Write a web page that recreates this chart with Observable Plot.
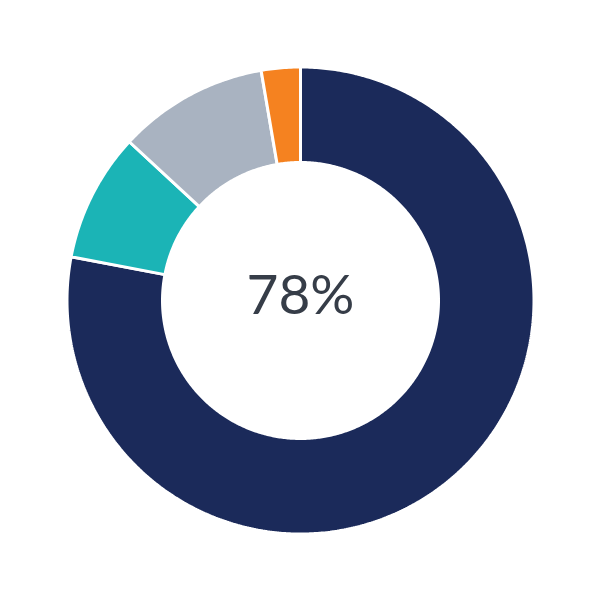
<!DOCTYPE html>
<html>
<head>
<meta charset="utf-8">
<script src="https://cdn.jsdelivr.net/npm/d3@7"></script>
<script src="https://cdn.jsdelivr.net/npm/@observablehq/plot@0.6"></script>
<style>
  html, body { margin: 0; padding: 0; background: #fff; }
  #chart { width: 600px; height: 600px; }
</style>
</head>
<body>
<div id="chart"></div>
<script>
const categories = ["A", "B", "C", "D"];
const values = [78, 8.9, 10.4, 2.7];
const colors = ["#1b2a5a", "#1bb4b6", "#a9b3c1", "#f58220"];
const centerLabel = "78%";

const outerR = 233.5;
const innerR = 138;

const total = d3.sum(values);
const rows = [];
let acc = 0;
categories.forEach((c, i) => {
  const a0 = (acc / total) * 2 * Math.PI;
  acc += values[i];
  const a1 = (acc / total) * 2 * Math.PI;
  const n = Math.max(4, Math.ceil((a1 - a0) / 0.01));
  const pts = [];
  for (let k = 0; k <= n; k++) {
    const a = a0 + (a1 - a0) * k / n;
    pts.push({cat: c, x: outerR * Math.sin(a), y: outerR * Math.cos(a)});
  }
  for (let k = n; k >= 0; k--) {
    const a = a0 + (a1 - a0) * k / n;
    pts.push({cat: c, x: innerR * Math.sin(a), y: innerR * Math.cos(a)});
  }
  pts.push({...pts[0]});
  rows.push(...pts);
});

const chart = Plot.plot({
  width: 600,
  height: 600,
  margin: 0,
  x: {domain: [-300, 300], axis: null},
  y: {domain: [-300, 300], axis: null},
  color: {domain: categories, range: colors},
  marks: [
    Plot.line(rows, {x: "x", y: "y", z: "cat", fill: "cat", stroke: "white", strokeWidth: 3, strokeLinejoin: "miter", curve: "linear"}),
    Plot.text([centerLabel], {x: () => 0, y: () => 0, text: d => d, fontSize: 55, fill: "#363d48", fontFamily: "Lato", textAnchor: "middle", dy: -4, lineAnchor: "middle"})
  ]
});
document.getElementById("chart").appendChild(chart);
</script>
</body>
</html>
